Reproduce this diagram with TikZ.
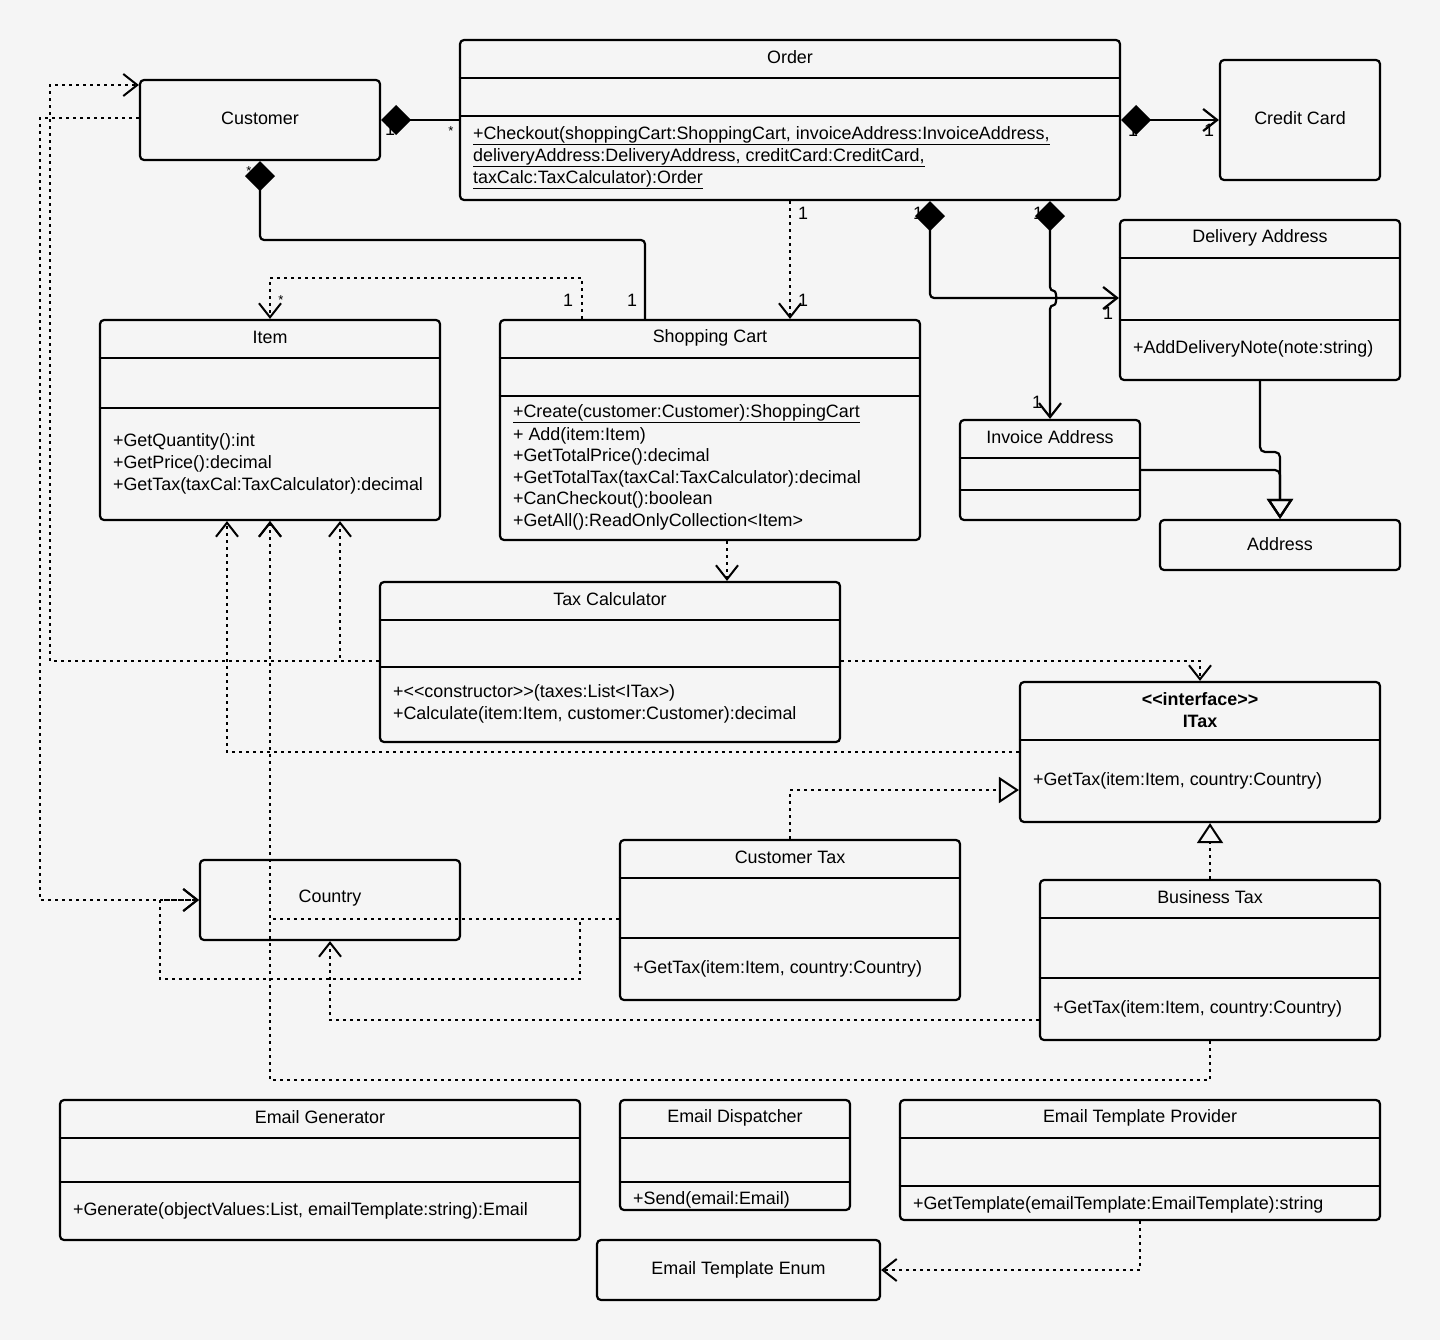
\documentclass[tikz,border=0pt]{standalone}
\usepackage{fontspec}
\setmainfont{Liberation Sans}
\usepackage{xcolor}
\usepackage{tikz}
\usetikzlibrary{arrows.meta, positioning}
\definecolor{paper}{RGB}{245,245,245}

\begin{document}
\fontsize{17.9}{21}\selectfont
\begin{tikzpicture}[x=1pt, y=-1pt, line width=2.2pt,
    box/.style={draw, rounded corners=4pt, inner sep=0pt},
    hd/.style={inner sep=0pt, yshift=-1.5pt},
    op/.style={anchor=west, inner sep=0pt, yshift=-1.5pt},
    mult/.style={inner sep=0pt},
    star/.style={inner sep=0pt, font=\fontsize{13}{15}\selectfont},
    dep/.style={line width=2pt, dash pattern=on 2.5pt off 4.5pt, -{Straight Barb[length=14pt,width=22pt]}},
    real/.style={line width=2pt, dash pattern=on 2.5pt off 4.5pt, -{Triangle[open,length=20pt,width=26pt]}},
    comp/.style={{Diamond[length=30pt,width=30pt]}-, rounded corners=4pt},
    compnav/.style={{Diamond[length=30pt,width=30pt]}-{Straight Barb[length=14pt,width=22pt]}, rounded corners=4pt},
    gen/.style={-{Triangle[open,length=20pt,width=26pt]}, rounded corners=5pt}]
  \fill[paper] (0,0) rectangle (1440,1340);
  \useasboundingbox (0,0) rectangle (1440,1340);

  % classes
  \node[box, minimum width=240pt, minimum height=80pt] (customer) at (260,120) {};
  \node[hd] (customerT) at (260,117) {Customer};

  \node[box, minimum width=660pt, minimum height=160pt] (order) at (790,120) {};
  \draw (order.west |- 0,78) -- (order.east |- 0,78);
  \draw (order.west |- 0,116) -- (order.east |- 0,116);
  \node[hd] (orderT) at (790,56) {Order};
  \node[op] (orderM1) at (472,134) {\underline{+Checkout(shoppingCart:ShoppingCart, invoiceAddress:InvoiceAddress,}};
  \node[op] (orderM2) at (472,156) {\underline{deliveryAddress:DeliveryAddress, creditCard:CreditCard,}};
  \node[op] (orderM3) at (472,178) {\underline{taxCalc:TaxCalculator):Order}};

  \node[box, minimum width=160pt, minimum height=120pt] (creditcard) at (1300,120) {};
  \node[hd] (creditcardT) at (1300,117) {Credit Card};

  \node[box, minimum width=280pt, minimum height=160pt] (delivery) at (1260,300) {};
  \draw (delivery.west |- 0,258) -- (delivery.east |- 0,258);
  \draw (delivery.west |- 0,320) -- (delivery.east |- 0,320);
  \node[hd] (deliveryT) at (1260,236) {Delivery Address};
  \node[op] (deliveryM1) at (1132,347) {+AddDeliveryNote(note:string)};

  \node[box, minimum width=180pt, minimum height=100pt] (invoice) at (1050,470) {};
  \draw (invoice.west |- 0,458) -- (invoice.east |- 0,458);
  \draw (invoice.west |- 0,490) -- (invoice.east |- 0,490);
  \node[hd] (invoiceT) at (1050,436) {Invoice Address};

  \node[box, minimum width=240pt, minimum height=50pt] (address) at (1280,545) {};
  \node[hd] (addressT) at (1280,543) {Address};

  \node[box, minimum width=340pt, minimum height=200pt] (item) at (270,420) {};
  \draw (item.west |- 0,358) -- (item.east |- 0,358);
  \draw (item.west |- 0,408) -- (item.east |- 0,408);
  \node[hd] (itemT) at (270,336) {Item};
  \node[op] (itemM1) at (112,440) {+GetQuantity():int};
  \node[op] (itemM2) at (112,462) {+GetPrice():decimal};
  \node[op] (itemM3) at (112,484) {+GetTax(taxCal:TaxCalculator):decimal};

  \node[box, minimum width=420pt, minimum height=220pt] (cart) at (710,430) {};
  \draw (cart.west |- 0,358) -- (cart.east |- 0,358);
  \draw (cart.west |- 0,396) -- (cart.east |- 0,396);
  \node[hd] (cartT) at (710,336) {Shopping Cart};
  \node[op] (cartM1) at (512,412) {\underline{+Create(customer:Customer):ShoppingCart}};
  \node[op] (cartM2) at (512,434) {+ Add(item:Item)};
  \node[op] (cartM3) at (512,455) {+GetTotalPrice():decimal};
  \node[op] (cartM4) at (512,477) {+GetTotalTax(taxCal:TaxCalculator):decimal};
  \node[op] (cartM5) at (512,498) {+CanCheckout():boolean};
  \node[op] (cartM6) at (512,520) {+GetAll():ReadOnlyCollection<Item>};

  \node[box, minimum width=460pt, minimum height=160pt] (taxcalc) at (610,662) {};
  \draw (taxcalc.west |- 0,620) -- (taxcalc.east |- 0,620);
  \draw (taxcalc.west |- 0,667) -- (taxcalc.east |- 0,667);
  \node[hd] (taxcalcT) at (610,598) {Tax Calculator};
  \node[op] (taxcalcM1) at (392,691) {+<{}<constructor>{}>(taxes:List<ITax>)};
  \node[op] (taxcalcM2) at (392,713) {+Calculate(item:Item, customer:Customer):decimal};

  \node[box, minimum width=360pt, minimum height=140pt] (itax) at (1200,752) {};
  \draw (itax.west |- 0,740) -- (itax.east |- 0,740);
  \node[hd] (itaxS) at (1200,698) {\textbf{<{}<interface>{}>}};
  \node[hd] (itaxT) at (1200,720) {\textbf{ITax}};
  \node[op] (itaxM1) at (1032,779) {+GetTax(item:Item, country:Country)};

  \node[box, minimum width=260pt, minimum height=80pt] (country) at (330,900) {};
  \node[hd] (countryT) at (330,897) {Country};

  \node[box, minimum width=340pt, minimum height=160pt] (custtax) at (790,920) {};
  \draw (custtax.west |- 0,878) -- (custtax.east |- 0,878);
  \draw (custtax.west |- 0,938) -- (custtax.east |- 0,938);
  \node[hd] (custtaxT) at (790,856) {Customer Tax};
  \node[op] (custtaxM1) at (632,967) {+GetTax(item:Item, country:Country)};

  \node[box, minimum width=340pt, minimum height=160pt] (bustax) at (1210,960) {};
  \draw (bustax.west |- 0,918) -- (bustax.east |- 0,918);
  \draw (bustax.west |- 0,978) -- (bustax.east |- 0,978);
  \node[hd] (bustaxT) at (1210,896) {Business Tax};
  \node[op] (bustaxM1) at (1052,1007) {+GetTax(item:Item, country:Country)};

  \node[box, minimum width=520pt, minimum height=140pt] (emailgen) at (320,1170) {};
  \draw (emailgen.west |- 0,1138) -- (emailgen.east |- 0,1138);
  \draw (emailgen.west |- 0,1182) -- (emailgen.east |- 0,1182);
  \node[hd] (emailgenT) at (320,1116) {Email Generator};
  \node[op] (emailgenM1) at (72,1209) {+Generate(objectValues:List, emailTemplate:string):Email};

  \node[box, minimum width=230pt, minimum height=110pt] (dispatch) at (735,1155) {};
  \draw (dispatch.west |- 0,1138) -- (dispatch.east |- 0,1138);
  \draw (dispatch.west |- 0,1182) -- (dispatch.east |- 0,1182);
  \node[hd] (dispatchT) at (735,1116) {Email Dispatcher};
  \node[op] (dispatchM1) at (632,1198) {+Send(email:Email)};

  \node[box, minimum width=480pt, minimum height=120pt] (etp) at (1140,1160) {};
  \draw (etp.west |- 0,1138) -- (etp.east |- 0,1138);
  \draw (etp.west |- 0,1186) -- (etp.east |- 0,1186);
  \node[hd] (etpT) at (1140,1116) {Email Template Provider};
  \node[op] (etpM1) at (912,1203) {+GetTemplate(emailTemplate:EmailTemplate):string};

  \node[box, minimum width=283pt, minimum height=60pt] (ete) at (738.5,1270) {};
  \node[hd] (eteT) at (738.5,1268) {Email Template Enum};

  % multiplicities
  \node[mult] (n1) at (390,129) {1};
  \node[star] (n2) at (451,131) {*};
  \node[mult] (n3) at (1133,130) {1};
  \node[mult] (n4) at (1209,130) {1};
  \node[mult] (n5) at (918,213) {1};
  \node[mult] (n6) at (1108,313) {1};
  \node[mult] (n7) at (1038,213) {1};
  \node[mult] (n8) at (1037,402) {1};
  \node[mult] (n9) at (803,213) {1};
  \node[mult] (n10) at (803,300) {1};
  \node[star] (n11) at (249,171) {*};
  \node[mult] (n12) at (632,300) {1};
  \node[mult] (n13) at (568,300) {1};
  \node[star] (n14) at (281,300) {*};

  % associations
  \draw[comp] (customer.east) -- (customer.east -| order.west);
  \draw[compnav] (order.east |- creditcard.west) -- (creditcard.west);
  \draw[compnav] (order.south -| 930,0) -- (930,298) -- (delivery.west |- 0,298);
  \draw[compnav] (order.south -| 1050,0) -- (1050,291)
    .. controls (1057,291) and (1057,305) .. (1050,305) -- (invoice.north);
  \draw[comp] (customer.south) -- (260,240) -- (645,240) -- (cart.north -| 645,0);

  % dependencies
  \draw[dep] (order.south) -- (order.south |- cart.north);
  \draw[dep] (cart.north -| 582,0) -- (582,278) -- (270,278) -- (item.north);
  \draw[dep] (cart.south -| 727,0) -- (taxcalc.north -| 727,0);
  \draw[dep] (taxcalc.west |- 0,661) -- (50,661) -- (50,85) -- (customer.west |- 0,85);
  \draw[dep] (taxcalc.west |- 0,661) -- (340,661) -- (item.south -| 340,0);
  \draw[dep] (taxcalc.east |- 0,661) -- (1200,661) -- (itax.north);
  \draw[dep] (customer.west |- 0,118) -- (40,118) -- (40,900) -- (country.west);
  \draw[dep] (itax.west) -- (227,752) -- (item.south -| 227,0);
  \draw[dep] (custtax.west |- 0,919) -- (270,919) -- (item.south);
  \draw[dep] (custtax.west |- 0,919) -- (580,919) -- (580,979) -- (160,979) -- (160,900) -- (country.west);
  \draw[dep] (bustax.west |- 0,1020) -- (330,1020) -- (country.south);
  \draw[dep] (bustax.south) -- (1210,1080) -- (270,1080) -- (item.south);
  \draw[dep] (etp.south) -- (1140,1270) -- (ete.east);

  % realizations and generalizations
  \draw[real] (custtax.north) -- (790,790) -- (itax.west |- 0,790);
  \draw[real] (bustax.north) -- (itax.south -| bustax.north);
  \draw[gen] (delivery.south) -- (1260,452) -- (1280,452) -- (address.north);
  \draw[gen] (invoice.east |- 0,470) -- (1280,470) -- (address.north);
\end{tikzpicture}
\end{document}
